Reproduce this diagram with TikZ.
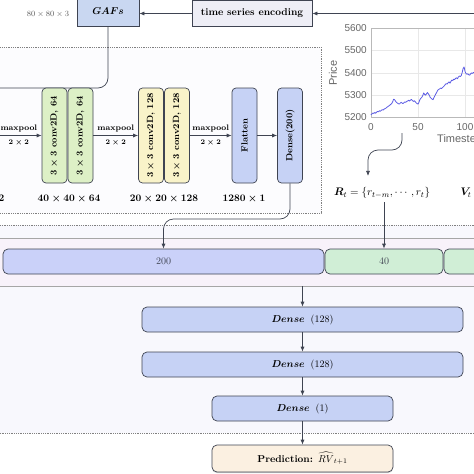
\documentclass[tikz,border=0pt]{standalone}
\usepackage{amsmath,bm}
\usepackage{fontspec}
\newfontfamily\plotfont{Liberation Sans}
\usetikzlibrary{arrows.meta,shadows}

\definecolor{edge}{HTML}{3F4452}
\definecolor{gafsfill}{HTML}{C9D7F1}
\definecolor{tsefill}{HTML}{EEEEF6}
\definecolor{convgreen}{HTML}{DDF0C6}
\definecolor{convyellow}{HTML}{F9F3C9}
\definecolor{denseblue}{HTML}{C6D2F5}
\definecolor{featblue}{HTML}{CAD1F9}
\definecolor{featgreen}{HTML}{D0EED6}
\definecolor{predfill}{HTML}{FBF0E1}
\definecolor{bandfill}{HTML}{F8F2FA}
\definecolor{panelfill}{HTML}{F8F8FD}
\definecolor{pricecol}{HTML}{5B5BE3}

\tikzset{
  box/.style={draw=edge, line width=0.7pt, inner sep=0pt, align=center},
  layer/.style={box, rounded corners=4pt, minimum width=25pt, minimum height=95pt, font=\small\bfseries\boldmath},
  row/.style={box, rounded corners=5pt, minimum height=25pt, fill=denseblue},
  feat/.style={box, rounded corners=5pt, minimum height=25pt, text=edge},
  arr/.style={-{Latex[length=5pt,width=4pt]}, draw=edge, line width=0.7pt},
  pool/.style={font=\footnotesize\bfseries, inner sep=1pt},
  poolsz/.style={font=\scriptsize\bfseries\boldmath, inner sep=1pt},
  dimlbl/.style={font=\boldmath},
  panel/.style={densely dotted, draw=gray, line width=0.8pt},
  axislbl/.style={font=\plotfont\fontsize{10}{12}\selectfont, text=gray!80!black, inner sep=1pt},
}

\begin{document}
\begin{tikzpicture}[x=1pt,y=-1pt]
  \useasboundingbox (0,0) rectangle (474,474);
  \clip (0,0) rectangle (474,474);

  \draw[panel, fill=panelfill] (-10,225) rectangle (484,433);
  \fill[bandfill] (-10,238) rectangle (484,286);
  \draw[gray!70, line width=0.8pt] (-10,238) -- (484,238) (-10,286) -- (484,286);
  \draw[panel, fill=white!60!panelfill] (-10,47) rectangle (321,213);

  \node[box, fill=gafsfill, minimum width=62pt, minimum height=30pt] (gafs) at (108,11) {$\boldsymbol{GAFs}$};
  \node[text=gray!70!black, font=\footnotesize] (gafsdim) at (48,14) {$80\times80\times3$};
  \node[box, fill=tsefill, minimum width=120pt, minimum height=26pt, font=\bfseries] (tse) at (252,13.5) {time series encoding};
  \coordinate (rawin) at (484,13.5);
  \coordinate (cnnin) at (-10,88);
  \draw[arr] (rawin) -- (tse.east);
  \draw[arr] (tse.west) -- (tse.west -| gafs.east);
  \draw[draw=edge, line width=0.7pt, rounded corners=10pt] (gafs.south) |- (cnnin);

  \coordinate (poolin) at (-4,135.5);
  \node[layer, fill=convgreen] (c1a) at (54.5,135.5) {\rotatebox{90}{$3\times3$ conv2D,\ 64}};
  \node[layer, fill=convgreen] (c1b) at (80.5,135.5) {\rotatebox{90}{$3\times3$ conv2D,\ 64}};
  \node[layer, fill=convyellow] (c2a) at (151,135.5) {\rotatebox{90}{$3\times3$ conv2D,\ 128}};
  \node[layer, fill=convyellow] (c2b) at (177,135.5) {\rotatebox{90}{$3\times3$ conv2D,\ 128}};
  \node[layer, fill=denseblue] (flat) at (244.5,135.5) {\rotatebox{90}{Flatten}};
  \node[layer, fill=denseblue] (d200) at (290,135.5) {\rotatebox{90}{Dense(200)}};
  \draw[arr] (poolin) -- (c1a.west) node[midway, above=2pt, pool] {maxpool} node[midway, below=3pt, poolsz] {$2\times2$};
  \draw[arr] (c1b.east) -- (c2a.west) node[midway, above=2pt, pool] {maxpool} node[midway, below=3pt, poolsz] {$2\times2$};
  \draw[arr] (c2b.east) -- (flat.west) node[midway, above=2pt, pool] {maxpool} node[midway, below=3pt, poolsz] {$2\times2$};
  \draw[arr] (flat.east) -- (d200.west);
  \node[dimlbl, anchor=east] (dim0) at (8,199) {$80\times80\times32$};
  \node[dimlbl] (dim1) at (69,199) {$40\times40\times64$};
  \node[dimlbl] (dim2) at (164,199) {$20\times20\times128$};
  \node[dimlbl] (dim3) at (244,199) {$1280\times1$};

  \begin{scope}[font=\plotfont]
    \draw[gray!18, line width=0.5pt] (418,28) -- (418,117) (465,28) -- (465,117)
      (371,50) -- (484,50) (371,73) -- (484,73) (371,95) -- (484,95);
    \draw[gray!55, line width=0.7pt] (484,28) -- (371,28) -- (371,117) -- (484,117);
    \node[axislbl, anchor=east] (p56) at (368,28) {5600};
    \node[axislbl, anchor=east] (p55) at (368,50) {5500};
    \node[axislbl, anchor=east] (p54) at (368,73) {5400};
    \node[axislbl, anchor=east] (p53) at (368,95) {5300};
    \node[axislbl, anchor=east] (p52) at (368,117) {5200};
    \node[axislbl] (t0) at (371,127) {0};
    \node[axislbl] (t50) at (418,127) {50};
    \node[axislbl] (t100) at (465,127) {100};
    \node[axislbl, rotate=90, font=\plotfont\fontsize{11}{13}\selectfont] (ylab) at (333,73) {Price};
    \node[axislbl, anchor=west, font=\plotfont\fontsize{11}{13}\selectfont] (xlab) at (436,140) {Timestep};
    \begin{scope}[shift={(371,117)}, x=0.94pt, y=0.2225pt]
      \draw[pricecol, line width=0.8pt, line join=round] plot coordinates {
        (0,10) (1,14) (2,18) (3,16) (4,20) (5,17) (6,22) (7,25) (8,23) (9,28)
        (10,26) (11,30) (12,33) (13,31) (14,36) (15,38) (16,40) (17,44) (18,47) (19,50)
        (20,53) (21,57) (22,60) (23,68) (24,80) (25,78) (26,72) (27,66) (28,63) (29,60)
        (30,58) (31,62) (32,66) (33,63) (34,60) (35,64) (36,68) (37,66) (38,70) (39,72)
        (40,75) (41,72) (42,76) (43,79) (44,74) (45,70) (46,73) (47,69) (48,64) (49,60)
        (50,58) (51,66) (52,78) (53,84) (54,88) (55,96) (56,108) (57,102) (58,98) (59,104)
        (60,110) (61,104) (62,98) (63,88) (64,84) (65,80) (66,78) (67,88) (68,96) (69,104)
        (70,112) (71,120) (72,124) (73,126) (74,130) (75,128) (76,132) (77,136) (78,140) (79,146)
        (80,150) (81,148) (82,154) (83,158) (84,152) (85,160) (86,166) (87,164) (88,170) (89,168)
        (90,174) (91,176) (92,172) (93,180) (94,184) (95,182) (96,186) (97,200) (98,218) (99,225)
        (100,205) (101,196) (102,192) (103,194) (104,190) (105,188) (106,194) (107,198) (108,196)
        (109,200) (110,198) (111,202) (112,200)};
    \end{scope}
  \end{scope}

  \coordinate (plotout) at (402,133);
  \coordinate (bend2) at (368,150);
  \node[font=\fontsize{11}{13}\selectfont] (rt) at (382,193) {$\bm{R}_t=\{r_{t-m},\cdots,r_t\}$};
  \node[anchor=west, font=\fontsize{11}{13}\selectfont] (vt) at (457,193) {$\bm{V}_t=\{v_{t-m},\cdots,v_t\}$};
  \draw[arr, rounded corners=10pt, shorten >=8pt] (plotout) |- (bend2) -- (bend2 |- rt.north);

  \node[feat, fill=featblue, minimum width=321pt] (f200) at (163.5,261.5) {200};
  \node[feat, fill=featgreen, minimum width=118pt] (f40) at (384,261.5) {40};
  \node[feat, fill=featgreen, minimum width=100pt] (fv) at (494,261.5) {};
  \coordinate (bend1) at (163.5,219);
  \draw[arr, rounded corners=10pt] (d200.south) |- (bend1) -- (f200.north);
  \draw[arr] (rt.south -| f40.north) -- (f40.north);
  \coordinate (bandout) at (302.5,286);

  \node[row, minimum width=321pt] (h1) at (302.5,319.5) {$\boldsymbol{Dense}$\hspace{6pt}(128)};
  \node[row, minimum width=321pt] (h2) at (302.5,364.5) {$\boldsymbol{Dense}$\hspace{6pt}(128)};
  \node[row, minimum width=181pt] (h3) at (302.5,408.5) {$\boldsymbol{Dense}$\hspace{6pt}(1)};
  \node[row, fill=predfill, minimum width=181pt, minimum height=27pt,
    drop shadow={shadow xshift=0pt, shadow yshift=-1.2pt, fill=gray!70}] (pred) at (302.5,458.5)
    {\bfseries Prediction: $\widehat{RV}_{t+1}$};
  \draw[arr] (bandout) -- (h1.north);
  \draw[arr] (h1.south) -- (h2.north);
  \draw[arr] (h2.south) -- (h3.north);
  \draw[arr] (h3.south) -- (pred.north);
\end{tikzpicture}
\end{document}
